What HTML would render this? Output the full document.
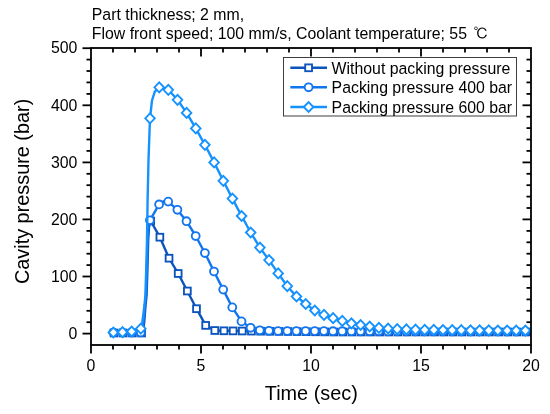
<!DOCTYPE html>
<html><head><meta charset="utf-8"><title>Cavity pressure</title>
<style>
html,body{margin:0;padding:0;background:#fff;}
body{width:550px;height:414px;position:relative;overflow:hidden;}
text{font-family:"Liberation Sans","Noto Sans CJK SC",sans-serif;fill:#000;}
.t16{font-size:15.85px;}
.t20{font-size:19.85px;}
.cj{font-family:"IPAGothic","Noto Sans CJK JP","Liberation Sans",sans-serif;font-size:15px;}
.tt{font-size:15.85px;}
</style></head><body>
<svg width="550" height="414" viewBox="0 0 550 414" style="position:absolute;left:0;top:0">
<rect x="0" y="0" width="550" height="414" fill="#fff"/>
<g stroke="#000" stroke-width="1.8" fill="none">
<path d="M91.0 345.0 V353.5"/>
<path d="M113.0 345.0 V349.5"/>
<path d="M113.0 48.0 V52.5"/>
<path d="M135.0 345.0 V349.5"/>
<path d="M135.0 48.0 V52.5"/>
<path d="M157.0 345.0 V349.5"/>
<path d="M157.0 48.0 V52.5"/>
<path d="M179.0 345.0 V349.5"/>
<path d="M179.0 48.0 V52.5"/>
<path d="M201.0 345.0 V353.5"/>
<path d="M201.0 48.0 V56.5"/>
<path d="M223.0 345.0 V349.5"/>
<path d="M223.0 48.0 V52.5"/>
<path d="M245.0 345.0 V349.5"/>
<path d="M245.0 48.0 V52.5"/>
<path d="M267.0 345.0 V349.5"/>
<path d="M267.0 48.0 V52.5"/>
<path d="M289.0 345.0 V349.5"/>
<path d="M289.0 48.0 V52.5"/>
<path d="M311.0 345.0 V353.5"/>
<path d="M311.0 48.0 V56.5"/>
<path d="M333.0 345.0 V349.5"/>
<path d="M333.0 48.0 V52.5"/>
<path d="M355.0 345.0 V349.5"/>
<path d="M355.0 48.0 V52.5"/>
<path d="M377.0 345.0 V349.5"/>
<path d="M377.0 48.0 V52.5"/>
<path d="M399.0 345.0 V349.5"/>
<path d="M399.0 48.0 V52.5"/>
<path d="M421.0 345.0 V353.5"/>
<path d="M421.0 48.0 V56.5"/>
<path d="M443.0 345.0 V349.5"/>
<path d="M443.0 48.0 V52.5"/>
<path d="M465.0 345.0 V349.5"/>
<path d="M465.0 48.0 V52.5"/>
<path d="M487.0 345.0 V349.5"/>
<path d="M487.0 48.0 V52.5"/>
<path d="M509.0 345.0 V349.5"/>
<path d="M509.0 48.0 V52.5"/>
<path d="M531.0 345.0 V353.5"/>
<path d="M91.0 333.6 H82.5"/>
<path d="M531.0 333.6 H522.5"/>
<path d="M91.0 322.2 H86.5"/>
<path d="M531.0 322.2 H526.5"/>
<path d="M91.0 310.8 H86.5"/>
<path d="M531.0 310.8 H526.5"/>
<path d="M91.0 299.4 H86.5"/>
<path d="M531.0 299.4 H526.5"/>
<path d="M91.0 287.9 H86.5"/>
<path d="M531.0 287.9 H526.5"/>
<path d="M91.0 276.5 H82.5"/>
<path d="M531.0 276.5 H522.5"/>
<path d="M91.0 265.1 H86.5"/>
<path d="M531.0 265.1 H526.5"/>
<path d="M91.0 253.7 H86.5"/>
<path d="M531.0 253.7 H526.5"/>
<path d="M91.0 242.3 H86.5"/>
<path d="M531.0 242.3 H526.5"/>
<path d="M91.0 230.9 H86.5"/>
<path d="M531.0 230.9 H526.5"/>
<path d="M91.0 219.4 H82.5"/>
<path d="M531.0 219.4 H522.5"/>
<path d="M91.0 208.0 H86.5"/>
<path d="M531.0 208.0 H526.5"/>
<path d="M91.0 196.6 H86.5"/>
<path d="M531.0 196.6 H526.5"/>
<path d="M91.0 185.2 H86.5"/>
<path d="M531.0 185.2 H526.5"/>
<path d="M91.0 173.8 H86.5"/>
<path d="M531.0 173.8 H526.5"/>
<path d="M91.0 162.4 H82.5"/>
<path d="M531.0 162.4 H522.5"/>
<path d="M91.0 150.9 H86.5"/>
<path d="M531.0 150.9 H526.5"/>
<path d="M91.0 139.5 H86.5"/>
<path d="M531.0 139.5 H526.5"/>
<path d="M91.0 128.1 H86.5"/>
<path d="M531.0 128.1 H526.5"/>
<path d="M91.0 116.7 H86.5"/>
<path d="M531.0 116.7 H526.5"/>
<path d="M91.0 105.3 H82.5"/>
<path d="M531.0 105.3 H522.5"/>
<path d="M91.0 93.9 H86.5"/>
<path d="M531.0 93.9 H526.5"/>
<path d="M91.0 82.4 H86.5"/>
<path d="M531.0 82.4 H526.5"/>
<path d="M91.0 71.0 H86.5"/>
<path d="M531.0 71.0 H526.5"/>
<path d="M91.0 59.6 H86.5"/>
<path d="M531.0 59.6 H526.5"/>
<path d="M91.0 48.2 H82.5"/>
</g>
<g fill="none" stroke-linejoin="round" stroke-linecap="butt">
<path d="M114.1 333.0 L123.3 333.0 L132.4 333.0 L141.6 333.0 L143.2 331.0 L144.4 320.0 L145.5 306.0 L146.6 295.0 L147.4 270.0 L148.2 240.0 L149.0 227.0 L150.7 221.0 L159.9 237.2 L169.0 258.2 L178.2 273.5 L187.3 291.0 L196.5 308.7 L205.7 325.4 L214.8 330.5 L224.0 330.8 L233.1 330.9 L242.3 331.0 L251.4 331.1 L260.6 331.2 L269.8 331.3 L278.9 331.4 L288.1 331.5 L297.2 331.6 L306.4 331.7 L315.5 331.8 L324.7 331.9 L333.8 332.0 L343.0 332.0 L352.2 332.0 L361.3 332.0 L370.5 332.0 L379.6 332.0 L388.8 332.0 L397.9 332.0 L407.1 332.0 L416.2 332.0 L425.4 332.0 L434.6 332.0 L443.7 332.0 L452.9 332.0 L462.0 332.0 L471.2 332.0 L480.3 332.0 L489.5 332.0 L498.7 332.0 L507.8 332.0 L517.0 332.0 L526.1 332.0 L531.0 332.0" stroke="#0b54bc" stroke-width="2.4"/>
</g>
<g fill="#fff" stroke="#0b54bc" stroke-width="1.85">
<rect x="110.70" y="329.60" width="6.8" height="6.8"/>
<rect x="119.86" y="329.60" width="6.8" height="6.8"/>
<rect x="129.01" y="329.60" width="6.8" height="6.8"/>
<rect x="138.17" y="329.60" width="6.8" height="6.8"/>
<rect x="147.32" y="217.60" width="6.8" height="6.8"/>
<rect x="156.48" y="233.80" width="6.8" height="6.8"/>
<rect x="165.64" y="254.80" width="6.8" height="6.8"/>
<rect x="174.79" y="270.10" width="6.8" height="6.8"/>
<rect x="183.95" y="287.60" width="6.8" height="6.8"/>
<rect x="193.10" y="305.30" width="6.8" height="6.8"/>
<rect x="202.26" y="322.00" width="6.8" height="6.8"/>
<rect x="211.42" y="327.10" width="6.8" height="6.8"/>
<rect x="220.57" y="327.40" width="6.8" height="6.8"/>
<rect x="229.73" y="327.50" width="6.8" height="6.8"/>
<rect x="238.88" y="327.60" width="6.8" height="6.8"/>
<rect x="248.04" y="327.70" width="6.8" height="6.8"/>
<rect x="257.20" y="327.80" width="6.8" height="6.8"/>
<rect x="266.35" y="327.90" width="6.8" height="6.8"/>
<rect x="275.51" y="328.00" width="6.8" height="6.8"/>
<rect x="284.66" y="328.10" width="6.8" height="6.8"/>
<rect x="293.82" y="328.20" width="6.8" height="6.8"/>
<rect x="302.98" y="328.30" width="6.8" height="6.8"/>
<rect x="312.13" y="328.40" width="6.8" height="6.8"/>
<rect x="321.29" y="328.50" width="6.8" height="6.8"/>
<rect x="330.44" y="328.60" width="6.8" height="6.8"/>
<rect x="339.60" y="328.60" width="6.8" height="6.8"/>
<rect x="348.76" y="328.60" width="6.8" height="6.8"/>
<rect x="357.91" y="328.60" width="6.8" height="6.8"/>
<rect x="367.07" y="328.60" width="6.8" height="6.8"/>
<rect x="376.22" y="328.60" width="6.8" height="6.8"/>
<rect x="385.38" y="328.60" width="6.8" height="6.8"/>
<rect x="394.54" y="328.60" width="6.8" height="6.8"/>
<rect x="403.69" y="328.60" width="6.8" height="6.8"/>
<rect x="412.85" y="328.60" width="6.8" height="6.8"/>
<rect x="422.00" y="328.60" width="6.8" height="6.8"/>
<rect x="431.16" y="328.60" width="6.8" height="6.8"/>
<rect x="440.32" y="328.60" width="6.8" height="6.8"/>
<rect x="449.47" y="328.60" width="6.8" height="6.8"/>
<rect x="458.63" y="328.60" width="6.8" height="6.8"/>
<rect x="467.78" y="328.60" width="6.8" height="6.8"/>
<rect x="476.94" y="328.60" width="6.8" height="6.8"/>
<rect x="486.10" y="328.60" width="6.8" height="6.8"/>
<rect x="495.25" y="328.60" width="6.8" height="6.8"/>
<rect x="504.41" y="328.60" width="6.8" height="6.8"/>
<rect x="513.56" y="328.60" width="6.8" height="6.8"/>
<rect x="522.72" y="328.60" width="6.8" height="6.8"/>
</g>
<path d="M113.3 332.5 L122.5 332.5 L131.6 332.5 L140.8 332.5 L142.6 328.0 L143.8 318.0 L145.0 305.0 L146.0 295.0 L146.8 270.0 L147.6 240.0 L148.4 228.0 L149.9 220.3 L159.1 204.4 L163.5 201.3 L168.2 201.6 L177.4 209.8 L186.5 221.2 L195.7 236.0 L204.9 253.0 L214.0 271.5 L223.2 289.6 L232.3 307.4 L241.5 321.4 L250.6 327.8 L259.8 330.3 L269.0 330.8 L278.1 331.0 L287.3 331.0 L296.4 331.1 L305.6 331.1 L314.7 331.1 L323.9 331.1 L333.0 331.2 L342.2 331.2 L351.4 331.2 L360.5 331.3 L369.7 331.3 L378.8 331.3 L388.0 331.4 L397.1 331.4 L406.3 331.4 L415.4 331.4 L424.6 331.4 L433.8 331.4 L442.9 331.4 L452.1 331.4 L461.2 331.4 L470.4 331.4 L479.5 331.4 L488.7 331.4 L497.9 331.4 L507.0 331.4 L516.2 331.4 L525.3 331.4 L531.0 331.4" fill="none" stroke="#1275f0" stroke-width="2.4" stroke-linejoin="round"/>
<g fill="#fff" stroke="#1275f0" stroke-width="1.85">
<circle cx="113.3" cy="332.5" r="3.95"/>
<circle cx="122.5" cy="332.5" r="3.95"/>
<circle cx="131.6" cy="332.5" r="3.95"/>
<circle cx="140.8" cy="332.5" r="3.95"/>
<circle cx="149.9" cy="220.3" r="3.95"/>
<circle cx="159.1" cy="204.4" r="3.95"/>
<circle cx="168.2" cy="201.6" r="3.95"/>
<circle cx="177.4" cy="209.8" r="3.95"/>
<circle cx="186.5" cy="221.2" r="3.95"/>
<circle cx="195.7" cy="236.0" r="3.95"/>
<circle cx="204.9" cy="253.0" r="3.95"/>
<circle cx="214.0" cy="271.5" r="3.95"/>
<circle cx="223.2" cy="289.6" r="3.95"/>
<circle cx="232.3" cy="307.4" r="3.95"/>
<circle cx="241.5" cy="321.4" r="3.95"/>
<circle cx="250.6" cy="327.8" r="3.95"/>
<circle cx="259.8" cy="330.3" r="3.95"/>
<circle cx="269.0" cy="330.8" r="3.95"/>
<circle cx="278.1" cy="331.0" r="3.95"/>
<circle cx="287.3" cy="331.0" r="3.95"/>
<circle cx="296.4" cy="331.1" r="3.95"/>
<circle cx="305.6" cy="331.1" r="3.95"/>
<circle cx="314.7" cy="331.1" r="3.95"/>
<circle cx="323.9" cy="331.1" r="3.95"/>
<circle cx="333.0" cy="331.2" r="3.95"/>
<circle cx="342.2" cy="331.2" r="3.95"/>
<circle cx="351.4" cy="331.2" r="3.95"/>
<circle cx="360.5" cy="331.3" r="3.95"/>
<circle cx="369.7" cy="331.3" r="3.95"/>
<circle cx="378.8" cy="331.3" r="3.95"/>
<circle cx="388.0" cy="331.4" r="3.95"/>
<circle cx="397.1" cy="331.4" r="3.95"/>
<circle cx="406.3" cy="331.4" r="3.95"/>
<circle cx="415.4" cy="331.4" r="3.95"/>
<circle cx="424.6" cy="331.4" r="3.95"/>
<circle cx="433.8" cy="331.4" r="3.95"/>
<circle cx="442.9" cy="331.4" r="3.95"/>
<circle cx="452.1" cy="331.4" r="3.95"/>
<circle cx="461.2" cy="331.4" r="3.95"/>
<circle cx="470.4" cy="331.4" r="3.95"/>
<circle cx="479.5" cy="331.4" r="3.95"/>
<circle cx="488.7" cy="331.4" r="3.95"/>
<circle cx="497.9" cy="331.4" r="3.95"/>
<circle cx="507.0" cy="331.4" r="3.95"/>
<circle cx="516.2" cy="331.4" r="3.95"/>
<circle cx="525.3" cy="331.4" r="3.95"/>
</g>
<path d="M113.4 332.5 L122.5 332.1 L131.7 331.5 L140.8 328.6 L142.2 323.0 L143.3 315.0 L144.5 305.0 L145.4 295.0 L146.2 270.0 L147.0 240.0 L147.6 200.0 L148.5 160.0 L150.0 118.3 L152.0 100.5 L154.8 91.6 L159.2 87.3 L168.3 89.8 L177.5 99.8 L186.6 112.9 L195.8 128.4 L204.9 144.8 L214.1 162.4 L223.3 180.8 L232.4 198.6 L241.6 216.0 L250.7 232.5 L259.9 247.6 L269.0 260.1 L278.2 273.4 L287.3 286.2 L296.5 296.5 L305.7 304.0 L314.8 310.5 L324.0 314.9 L333.1 318.2 L342.3 320.9 L351.4 323.3 L360.6 325.0 L369.7 326.5 L378.9 327.8 L388.1 328.5 L397.2 329.1 L406.4 329.4 L415.5 329.6 L424.7 329.8 L433.8 329.9 L443.0 330.0 L452.2 330.1 L461.3 330.2 L470.5 330.3 L479.6 330.4 L488.8 330.4 L497.9 330.5 L507.1 330.5 L516.2 330.5 L525.4 330.5 L531.0 330.5" fill="none" stroke="#1692fe" stroke-width="2.4" stroke-linejoin="round"/>
<g fill="#fff" stroke="#1692fe" stroke-width="1.85">
<path d="M108.6 332.5 L113.4 327.5 L118.2 332.5 L113.4 337.5Z"/>
<path d="M117.7 332.1 L122.5 327.1 L127.3 332.1 L122.5 337.1Z"/>
<path d="M126.9 331.5 L131.7 326.5 L136.5 331.5 L131.7 336.5Z"/>
<path d="M136.0 328.6 L140.8 323.6 L145.6 328.6 L140.8 333.6Z"/>
<path d="M145.2 118.3 L150.0 113.3 L154.8 118.3 L150.0 123.3Z"/>
<path d="M154.4 87.3 L159.2 82.3 L164.0 87.3 L159.2 92.3Z"/>
<path d="M163.5 89.8 L168.3 84.8 L173.1 89.8 L168.3 94.8Z"/>
<path d="M172.7 99.8 L177.5 94.8 L182.3 99.8 L177.5 104.8Z"/>
<path d="M181.8 112.9 L186.6 107.9 L191.4 112.9 L186.6 117.9Z"/>
<path d="M191.0 128.4 L195.8 123.4 L200.6 128.4 L195.8 133.4Z"/>
<path d="M200.1 144.8 L204.9 139.8 L209.7 144.8 L204.9 149.8Z"/>
<path d="M209.3 162.4 L214.1 157.4 L218.9 162.4 L214.1 167.4Z"/>
<path d="M218.5 180.8 L223.3 175.8 L228.1 180.8 L223.3 185.8Z"/>
<path d="M227.6 198.6 L232.4 193.6 L237.2 198.6 L232.4 203.6Z"/>
<path d="M236.8 216.0 L241.6 211.0 L246.4 216.0 L241.6 221.0Z"/>
<path d="M245.9 232.5 L250.7 227.5 L255.5 232.5 L250.7 237.5Z"/>
<path d="M255.1 247.6 L259.9 242.6 L264.7 247.6 L259.9 252.6Z"/>
<path d="M264.2 260.1 L269.0 255.1 L273.8 260.1 L269.0 265.1Z"/>
<path d="M273.4 273.4 L278.2 268.4 L283.0 273.4 L278.2 278.4Z"/>
<path d="M282.5 286.2 L287.3 281.2 L292.1 286.2 L287.3 291.2Z"/>
<path d="M291.7 296.5 L296.5 291.5 L301.3 296.5 L296.5 301.5Z"/>
<path d="M300.9 304.0 L305.7 299.0 L310.5 304.0 L305.7 309.0Z"/>
<path d="M310.0 310.5 L314.8 305.5 L319.6 310.5 L314.8 315.5Z"/>
<path d="M319.2 314.9 L324.0 309.9 L328.8 314.9 L324.0 319.9Z"/>
<path d="M328.3 318.2 L333.1 313.2 L337.9 318.2 L333.1 323.2Z"/>
<path d="M337.5 320.9 L342.3 315.9 L347.1 320.9 L342.3 325.9Z"/>
<path d="M346.6 323.3 L351.4 318.3 L356.2 323.3 L351.4 328.3Z"/>
<path d="M355.8 325.0 L360.6 320.0 L365.4 325.0 L360.6 330.0Z"/>
<path d="M364.9 326.5 L369.7 321.5 L374.5 326.5 L369.7 331.5Z"/>
<path d="M374.1 327.8 L378.9 322.8 L383.7 327.8 L378.9 332.8Z"/>
<path d="M383.3 328.5 L388.1 323.5 L392.9 328.5 L388.1 333.5Z"/>
<path d="M392.4 329.1 L397.2 324.1 L402.0 329.1 L397.2 334.1Z"/>
<path d="M401.6 329.4 L406.4 324.4 L411.2 329.4 L406.4 334.4Z"/>
<path d="M410.7 329.6 L415.5 324.6 L420.3 329.6 L415.5 334.6Z"/>
<path d="M419.9 329.8 L424.7 324.8 L429.5 329.8 L424.7 334.8Z"/>
<path d="M429.0 329.9 L433.8 324.9 L438.6 329.9 L433.8 334.9Z"/>
<path d="M438.2 330.0 L443.0 325.0 L447.8 330.0 L443.0 335.0Z"/>
<path d="M447.4 330.1 L452.2 325.1 L457.0 330.1 L452.2 335.1Z"/>
<path d="M456.5 330.2 L461.3 325.2 L466.1 330.2 L461.3 335.2Z"/>
<path d="M465.7 330.3 L470.5 325.3 L475.3 330.3 L470.5 335.3Z"/>
<path d="M474.8 330.4 L479.6 325.4 L484.4 330.4 L479.6 335.4Z"/>
<path d="M484.0 330.4 L488.8 325.4 L493.6 330.4 L488.8 335.4Z"/>
<path d="M493.1 330.5 L497.9 325.5 L502.7 330.5 L497.9 335.5Z"/>
<path d="M502.3 330.5 L507.1 325.5 L511.9 330.5 L507.1 335.5Z"/>
<path d="M511.4 330.5 L516.2 325.5 L521.0 330.5 L516.2 335.5Z"/>
<path d="M520.6 330.5 L525.4 325.5 L530.2 330.5 L525.4 335.5Z"/>
</g>
<g stroke="#000" stroke-width="1.8" fill="none" stroke-linecap="square">
<rect x="91.0" y="48.0" width="440.0" height="297.0"/>
</g>
<rect x="283.5" y="57.5" width="233" height="58.5" fill="#fff" stroke="#2a2a2a" stroke-width="0.9"/>
<path d="M290.3 67.8 H327" stroke="#0b54bc" stroke-width="2.4" fill="none"/>
<rect x="305.20" y="64.40" width="6.8" height="6.8" fill="#fff" stroke="#0b54bc" stroke-width="1.85"/>
<text x="331.6" y="73.5" class="tt">Without packing pressure</text>
<path d="M290.3 87.3 H327" stroke="#1275f0" stroke-width="2.4" fill="none"/>
<circle cx="308.6" cy="87.3" r="3.95" fill="#fff" stroke="#1275f0" stroke-width="1.85"/>
<text x="331.6" y="93.0" class="tt">Packing pressure 400 bar</text>
<path d="M290.3 107.0 H327" stroke="#1692fe" stroke-width="2.4" fill="none"/>
<path d="M303.8 107.0 L308.6 102.0 L313.4 107.0 L308.6 112.0Z" fill="#fff" stroke="#1692fe" stroke-width="1.85"/>
<text x="331.6" y="112.7" class="tt">Packing pressure 600 bar</text>
<text x="91.0" y="371.3" class="t16" text-anchor="middle">0</text>
<text x="201.0" y="371.3" class="t16" text-anchor="middle">5</text>
<text x="311.0" y="371.3" class="t16" text-anchor="middle">10</text>
<text x="421.0" y="371.3" class="t16" text-anchor="middle">15</text>
<text x="531.0" y="371.3" class="t16" text-anchor="middle">20</text>
<text x="77.4" y="338.8" class="t16" text-anchor="end">0</text>
<text x="77.4" y="281.7" class="t16" text-anchor="end">100</text>
<text x="77.4" y="224.6" class="t16" text-anchor="end">200</text>
<text x="77.4" y="167.6" class="t16" text-anchor="end">300</text>
<text x="77.4" y="110.5" class="t16" text-anchor="end">400</text>
<text x="77.4" y="53.4" class="t16" text-anchor="end">500</text>
<text x="91.8" y="19.5" class="tt">Part thickness; 2 mm,</text>
<text x="91.8" y="38.7" class="tt">Flow front speed; 100 mm/s, Coolant temperature; 55 <tspan class="cj" dx="2.2">℃</tspan></text>
<text x="311.3" y="399.7" class="t20" text-anchor="middle">Time (sec)</text>
<text transform="translate(28.9 191.4) rotate(-90)" class="t20" text-anchor="middle">Cavity pressure (bar)</text>
</svg>
</body></html>
